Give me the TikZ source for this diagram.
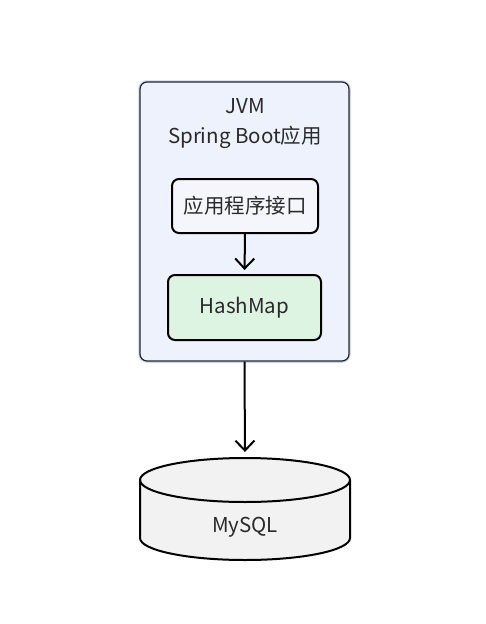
\documentclass[tikz,border=0pt]{standalone}
\usepackage{fontspec}
\setmainfont{Noto Sans CJK SC}
\usepackage{tikz}
\usetikzlibrary{arrows.meta, positioning, calc}
\definecolor{cjvm}{HTML}{EEF2FC}
\definecolor{chalo}{HTML}{C9D6F2}
\definecolor{capp}{HTML}{F4F6FC}
\definecolor{cmap}{HTML}{DEF4E3}
\definecolor{cdb}{HTML}{F2F2F2}
\definecolor{ctxt}{HTML}{2A2A2A}

\begin{document}
\begin{tikzpicture}[x=1pt, y=1pt,
  outer/.style={draw=black!85, line width=1.2pt, rounded corners=7pt, fill=cjvm,
                minimum width=209pt, minimum height=279pt},
  box/.style={draw=black, line width=2pt, rounded corners=7pt, fill=#1,
              font=\fontsize{20.5}{24}\selectfont, text=ctxt, align=center},
  lbl/.style={font=\fontsize{20.5}{30}\selectfont, text=ctxt, align=center},
  arr/.style={-{Straight Barb[length=10pt, width=19pt, line width=2pt]}, line width=2pt}
]
\useasboundingbox (0,0) rectangle (486,-624);

% JVM container
\draw[chalo, line width=3.5pt, rounded corners=7pt] (140,-82) rectangle (349,-361);
\node[outer] (jvm) at (244.5,-221.5) {};
\node[lbl] (title) at (245,-124) {JVM\\Spring Boot应用};

\node[box=capp, minimum width=146pt, minimum height=54pt] (api) at (245,-206) {应用程序接口};
\node[box=cmap, minimum width=153pt, minimum height=65pt] (map) at (244.5,-307.5) {HashMap};

% database
\draw[fill=cdb, line width=2pt] (140,-480) -- (140,-538)
  arc[start angle=180, end angle=360, x radius=105, y radius=22] -- (350,-480)
  arc[start angle=0, end angle=180, x radius=105, y radius=22] -- cycle;
\draw[line width=2pt] (140,-480) arc[start angle=180, end angle=360, x radius=105, y radius=22];
\coordinate (dbtop) at (245,-458);
\node[lbl] (db) at (245,-527) {MySQL};

\draw[arr, shorten >=4pt] (api.south) -- (map.north);
\draw[arr, shorten >=6pt] (jvm.south) -- (dbtop);
\end{tikzpicture}
\end{document}
